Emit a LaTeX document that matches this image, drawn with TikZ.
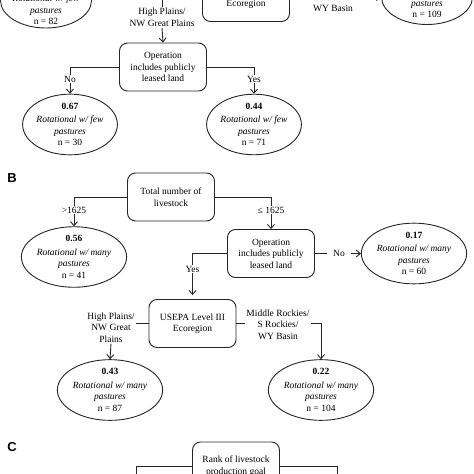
\documentclass[tikz,border=0pt]{standalone}
\usepackage{fontspec}
\setmainfont{Liberation Serif}
\newfontfamily\labfont{Liberation Sans}
\usetikzlibrary{shapes.geometric,arrows.meta}
\begin{document}
\begin{tikzpicture}[x=1pt,y=-1pt,
  font=\fontsize{9.5}{11.5}\selectfont,
  dbox/.style={draw=black!85, rounded corners=8pt, minimum width=87pt, minimum height=48pt, align=center, inner sep=2pt, line width=0.9pt},
  leaf/.style={draw=black!85, ellipse, minimum width=91pt, minimum height=55pt, align=center, inner sep=0pt, line width=0.9pt},
  conn/.style={draw=black!85, line width=0.9pt},
  arr/.style={conn, -{Straight Barb[length=4pt,width=7pt]}},
  lbl/.style={align=center, inner sep=1pt},
  panel/.style={font=\labfont\bfseries\fontsize{13}{15}\selectfont}
]
\useasboundingbox (0,0) rectangle (474,474);
\fill[white] (0,0) rectangle (474,474);
\clip (0,0) rectangle (474,474);

% ---- Panel A (partial) ----
\node[leaf] (eA1) at (46,0.5) {};
\node[lbl] (tA1) at (46,10) {\textit{Rotational w/ few}\\\textit{pastures}\\n = 82};
\node[dbox] (ecoA) at (246,-2.5) {};
\node[lbl] (tEcoA) at (246,4) {Ecoregion};
\node[leaf] (eA2) at (427,-3) {};
\node[lbl] (tA2) at (427,9.5) {\textit{pastures}\\n = 109};
\node[lbl] (hpA) at (162,17.5) {High Plains/\\NW Great Plains};
\node[lbl] (rkA) at (333,3) {S Rockies/\\WY Basin};
\draw[conn] (ecoA.west) -| (hpA.north);
\draw[conn] (ecoA.east) -- (rkA.west|-ecoA.east);
\draw[arr] (rkA.east|-eA2.west) -- (eA2.west);

\node[dbox] (opA) at (163,67) {Operation\\includes publicly\\leased land};
\draw[arr] (hpA.south) -- (opA.north);
\node[leaf] (e067) at (70,124.5) {\textbf{0.67}\\[2pt]\textit{Rotational w/ few}\\\textit{pastures}\\n = 30};
\node[leaf] (e044) at (254,124.5) {\textbf{0.44}\\[2pt]\textit{Rotational w/ few}\\\textit{pastures}\\n = 71};
\draw[arr] (opA.west) -| (e067.north);
\draw[arr] (opA.east) -| (e044.north);
\node[lbl, fill=white] (noA) at (70,79) {No};
\node[lbl, fill=white] (yesA) at (254,79) {Yes};

% ---- Panel B ----
\node[panel] (pB) at (12,178) {B};
\node[dbox] (tot) at (171,197) {Total number of\\livestock};
\node[leaf] (e056) at (74,257) {\textbf{0.56}\\[2pt]\textit{Rotational w/ many}\\\textit{pastures}\\n = 41};
\node[dbox] (opB) at (271,253.5) {Operation\\includes publicly\\leased land};
\draw[arr] (tot.west) -| (e056.north);
\draw[arr] (tot.east) -| (opB.north);
\node[lbl, fill=white] (gtB) at (74,210) {>1625};
\node[lbl, fill=white] (leB) at (271,210) {≤ 1625};

\node[leaf] (e017) at (414,253.5) {\textbf{0.17}\\[2pt]\textit{Rotational w/ many}\\\textit{pastures}\\n = 60};
\draw[arr] (opB.east) -- (e017.west);
\node[lbl, fill=white, inner xsep=6pt] (noB) at (339,253.5) {No};

\node[dbox] (ecoB) at (192.5,323.5) {USEPA Level III\\Ecoregion};
\draw[arr, shorten >=4pt] (opB.west) -| (ecoB.north);
\node[lbl, fill=white] (yesB) at (192.5,269) {Yes};

\node[lbl] (hpB) at (111,327.5) {High Plains/\\NW Great\\Plains};
\node[lbl] (rkB) at (278,324.5) {Middle Rockies/\\S Rockies/\\WY Basin};
\node[leaf] (e043) at (110,390) {\textbf{0.43}\\[2pt]\textit{Rotational w/ many}\\\textit{pastures}\\n = 87};
\node[leaf] (e022) at (321,390) {\textbf{0.22}\\[2pt]\textit{Rotational w/ many}\\\textit{pastures}\\n = 104};
\draw[conn] (ecoB.west) -- (hpB.east|-ecoB.west);
\draw[arr] (hpB.south) -- (e043.north);
\draw[conn] (ecoB.east) -- (rkB.west|-ecoB.east);
\draw[arr] (rkB.east|-ecoB.east) -| (e022.north);

% ---- Panel C (partial) ----
\node[panel] (pC) at (12,447) {C};
\node[dbox] (rank) at (236,466) {Rank of livestock\\production goal};
\coordinate (cL) at (136,490);
\coordinate (cR) at (337,490);
\draw[conn] (rank.west) -| (cL);
\draw[conn] (rank.east) -| (cR);
\end{tikzpicture}
\end{document}
